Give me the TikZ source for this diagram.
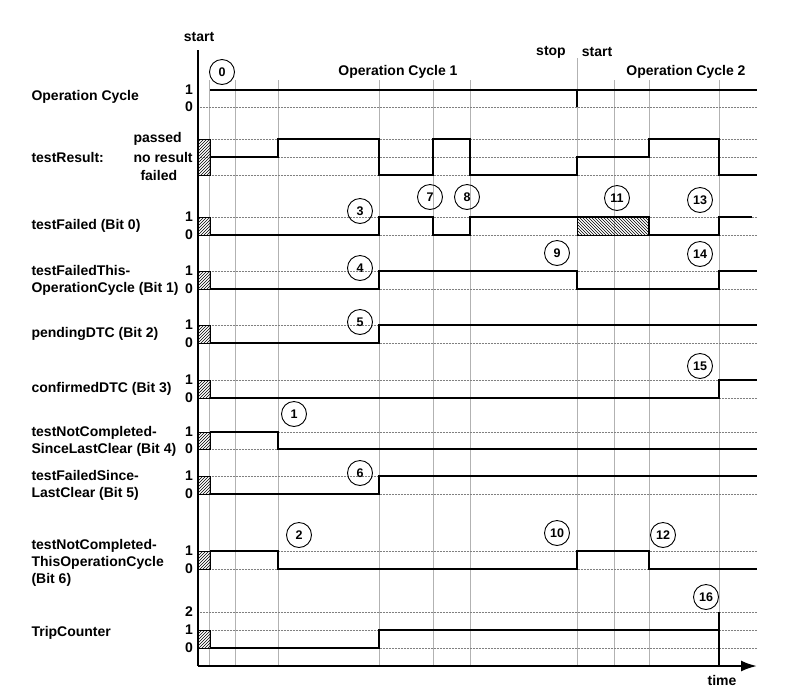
\documentclass[tikz,border=0pt]{standalone}
\usepackage{fontspec}
\setmainfont{Liberation Sans}
\usetikzlibrary{patterns,arrows.meta}
\begin{document}
\begin{tikzpicture}[x=1pt,y=-1pt,
  every node/.style={font=\fontsize{14}{17}\selectfont\bfseries},
  lbl/.style={anchor=west,align=left},
  lvl/.style={anchor=east,inner sep=0pt},
  dot/.style={densely dotted,gray,line width=0.5pt},
  grid/.style={gray!60,line width=0.5pt},
  sig/.style={line width=1.2pt,line join=miter},
  num/.style={circle,draw,line width=0.9pt,minimum size=25pt,inner sep=0pt,font=\fontsize{12.5}{14}\selectfont\bfseries},
  hat/.style={draw,line width=0.5pt,pattern=north east lines}]
\useasboundingbox (0,0) rectangle (795,697);
% vertical grid
\foreach \x in {209,235,278,379,433,470,614,649,719} \draw[grid] (\x,80) -- (\x,666);
\draw[grid] (577,58) -- (577,666);
% dotted levels
\foreach \y in {107,139,157,175,217,235,271,289,325,343,380,398,432,449,476,494,551,569,612,630,648}
  \draw[dot] (198,\y) -- (757,\y);
% axes
\coordinate (o) at (198,666);
\coordinate (t) at (198,50);
\coordinate (e) at (757,666);
\draw[line width=2.2pt] (t) -- (o);
\draw[line width=2.2pt,-{Latex[length=16pt,width=11pt]}] (o) -- (e);
\node (start0) at (199,37) {start};
\node (time) at (722,680) {time};
\node (stop) at (551,52) {stop};
\node (start1) at (597,52) {start};
\node (oc1) at (398,72) {Operation Cycle 1};
\node (oc2) at (686,72) {Operation Cycle 2};
% labels
\node[lbl] at (28,97) {Operation Cycle};
\node[lbl] at (28,157) {testResult:};
\node[lbl] at (130,139) {passed};
\node[lbl] at (130,157) {no result};
\node[lbl] at (137,175) {failed};
\node[lbl] at (28,226) {testFailed (Bit 0)};
\node[lbl,align=left] at (28,280) {testFailedThis-\\OperationCycle (Bit 1)};
\node[lbl] at (28,334) {pendingDTC (Bit 2)};
\node[lbl] at (28,389) {confirmedDTC (Bit 3)};
\node[lbl,align=left] at (28,441) {testNotCompleted-\\SinceLastClear (Bit 4)};
\node[lbl,align=left] at (28,485) {testFailedSince-\\LastClear (Bit 5)};
\node[lbl,align=left] at (28,563) {testNotCompleted-\\ThisOperationCycle\\(Bit 6)};
\node[lbl] at (28,633) {TripCounter};
% level numbers
\foreach \y/\t in {90/1,107/0,217/1,235/0,271/1,289/0,325/1,343/0,380/1,398/0,432/1,449/0,476/1,494/0,551/1,569/0,612/2,630/1,648/0}
  \node[lvl] at (193,\y) {\t};
% hatches
\foreach \a/\b in {139/175,217/235,271/289,325/343,380/398,432/449,476/494,551/569,630/648}
  \draw[hat] (198,\a) rectangle (210,\b);
\draw[line width=0.5pt,pattern=north west lines] (577,217) rectangle (649,235);
% signals
\draw[sig] (210,90) -- (757,90);
\draw[sig] (577,90) -- (577,107);
\draw[sig] (210,157) -- (278,157) -- (278,139) -- (379,139) -- (379,175) -- (433,175) -- (433,139) -- (470,139) -- (470,175) -- (577,175) -- (577,157) -- (649,157) -- (649,139) -- (719,139) -- (719,175) -- (757,175);
\draw[sig] (210,235) -- (379,235) -- (379,217) -- (433,217) -- (433,235) -- (470,235) -- (470,217) -- (649,217) -- (649,235) -- (719,235) -- (719,217) -- (752,217);
\draw[sig] (210,289) -- (379,289) -- (379,271) -- (577,271) -- (577,289) -- (719,289) -- (719,271) -- (757,271);
\draw[sig] (210,343) -- (379,343) -- (379,325) -- (757,325);
\draw[sig] (210,398) -- (719,398) -- (719,380) -- (757,380);
\draw[sig] (210,432) -- (278,432) -- (278,449) -- (757,449);
\draw[sig] (210,494) -- (379,494) -- (379,476) -- (757,476);
\draw[sig] (210,551) -- (278,551) -- (278,569) -- (577,569) -- (577,551) -- (649,551) -- (649,569) -- (757,569);
\draw[sig] (210,648) -- (379,648) -- (379,630) -- (719,630) -- (719,612) -- (719,666);
% numbered circles
\node[num] (n0) at (222,72) {0};
\node[num] (n1) at (294,414) {1};
\node[num] (n2) at (299,535) {2};
\node[num] (n3) at (360,211) {3};
\node[num] (n4) at (360,268) {4};
\node[num] (n5) at (360,322) {5};
\node[num] (n6) at (360,473) {6};
\node[num] (n7) at (430,197) {7};
\node[num] (n8) at (467,197) {8};
\node[num] (n9) at (557,253) {9};
\node[num] (n10) at (557,533) {10};
\node[num] (n11) at (617,198) {11};
\node[num] (n12) at (663,535) {12};
\node[num] (n13) at (700,200) {13};
\node[num] (n14) at (700,254) {14};
\node[num] (n15) at (700,366) {15};
\node[num] (n16) at (706,597) {16};
\end{tikzpicture}
\end{document}
